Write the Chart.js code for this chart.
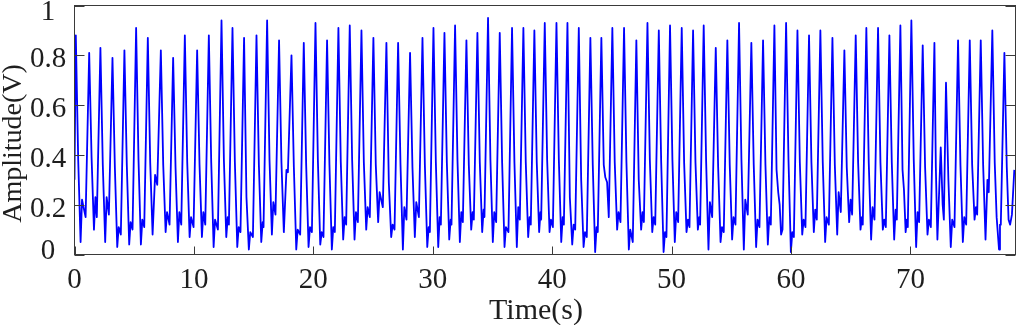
<!DOCTYPE html>
<html>
<head>
<meta charset="utf-8">
<script src="https://cdn.jsdelivr.net/npm/chart.js@4.4.1/dist/chart.umd.min.js"></script>
<style>
  html, body { margin: 0; padding: 0; background: #ffffff; }
  #wrap { width: 1017px; height: 325px; }
</style>
</head>
<body>
<div id="wrap"><canvas id="c" width="1017" height="325"></canvas></div>
<script>
// ---- data (time in s, amplitude in V) ----
const time = [
  0.00,
  0.11,0.31,0.51,0.63,0.93,
  1.23,1.43,1.63,1.75,1.87,
  2.17,2.37,2.57,2.69,2.88,
  3.18,3.38,3.58,3.70,3.88,
  4.18,4.38,4.58,4.70,4.86,
  5.16,5.36,5.56,5.68,5.84,
  6.14,6.34,6.54,6.75,6.93,
  7.23,7.43,7.63,7.75,7.96,
  8.26,8.46,8.66,8.78,8.94,
  9.24,9.44,9.64,9.76,9.97,
  10.27,10.47,10.67,10.79,10.95,
  11.25,11.45,11.65,11.77,12.01,
  12.31,12.51,12.71,12.83,12.93,
  13.23,13.43,13.63,13.75,13.90,
  14.20,14.40,14.60,14.72,14.94,
  15.24,15.44,15.64,15.76,15.83,
  16.13,16.33,16.53,16.65,16.83,
  17.13,17.33,17.53,17.75,17.87,
  18.17,18.37,18.57,18.69,18.90,
  19.20,19.40,19.60,19.72,19.88,
  20.18,20.38,20.58,20.70,20.85,
  21.15,21.35,21.55,21.67,21.80,
  22.10,22.30,22.50,22.62,22.75,
  23.05,23.25,23.45,23.57,23.73,
  24.03,24.23,24.43,24.55,24.73,
  25.03,25.23,25.43,25.55,25.82,
  26.12,26.32,26.52,26.64,26.80,
  27.10,27.30,27.50,27.62,27.80,
  28.10,28.30,28.50,28.62,28.84,
  29.14,29.34,29.54,29.66,29.76,
  30.06,30.26,30.46,30.58,30.68,
  30.98,31.18,31.38,31.50,31.57,
  31.87,32.07,32.27,32.39,32.52,
  32.82,33.02,33.22,33.34,33.44,
  33.74,33.94,34.14,34.26,34.33,
  34.63,34.83,35.03,35.15,35.31,
  35.61,35.81,36.01,36.13,36.34,
  36.64,36.84,37.04,37.16,37.29,
  37.59,37.79,37.99,38.11,38.21,
  38.51,38.71,38.91,39.02,39.08,
  39.38,39.58,39.78,39.90,40.06,
  40.36,40.56,40.76,40.88,40.98,
  41.28,41.48,41.68,41.80,41.93,
  42.23,42.43,42.63,42.75,42.90,
  43.20,43.40,43.60,43.72,43.82,
  44.12,44.32,44.45,44.60,44.74,
  45.04,45.24,45.44,45.56,45.72,
  46.02,46.22,46.42,46.54,46.75,
  47.05,47.25,47.45,47.57,47.68,
  47.98,48.18,48.38,48.50,48.63,
  48.93,49.13,49.33,49.45,49.57,
  49.87,50.07,50.27,50.39,50.55,
  50.85,51.05,51.25,51.37,51.50,
  51.80,52.00,52.20,52.32,52.39,
  52.69,52.89,53.09,53.21,53.40,
  53.70,53.90,54.10,54.22,54.37,
  54.67,54.87,55.07,55.19,55.35,
  55.65,55.85,56.05,56.17,56.38,
  56.68,56.88,57.08,57.20,57.36,
  57.66,57.86,58.06,58.18,58.31,
  58.61,58.79,58.93,59.05,59.17,59.29,
  59.59,59.79,59.99,60.11,60.24,
  60.54,60.74,60.94,61.06,61.21,
  61.51,61.71,61.91,62.03,62.16,
  62.46,62.66,62.86,62.98,63.17,
  63.47,63.67,63.87,63.99,64.17,
  64.47,64.67,64.87,64.99,65.12,
  65.42,65.62,65.82,65.94,66.01,
  66.31,66.51,66.71,66.83,66.99,
  67.29,67.49,67.69,67.81,67.94,
  68.24,68.44,68.64,68.76,68.86,
  69.16,69.34,69.46,69.60,69.70,69.78,
  70.08,70.28,70.48,70.60,70.73,
  71.03,71.23,71.43,71.55,71.71,
  72.01,72.13,72.26,72.54,72.70,72.80,
  72.98,73.18,73.38,73.50,73.69,
  73.99,74.19,74.39,74.51,74.67,
  74.97,75.17,75.37,75.49,75.59,
  75.89,76.09,76.29,76.45,76.56,
  76.86,77.06,77.22,77.42,77.50,77.57,
  77.87,78.07,78.22,78.35,78.50,78.70
];

const amplitude = [
  0.30,
  0.88,0.38,0.05,0.22,0.15,
  0.81,0.39,0.10,0.23,0.15,
  0.83,0.36,0.05,0.23,0.16,
  0.79,0.35,0.03,0.11,0.08,
  0.82,0.36,0.04,0.13,0.10,
  0.91,0.38,0.04,0.14,0.11,
  0.87,0.37,0.08,0.32,0.28,
  0.82,0.36,0.09,0.17,0.12,
  0.79,0.35,0.05,0.17,0.12,
  0.88,0.37,0.07,0.15,0.11,
  0.82,0.36,0.07,0.17,0.12,
  0.88,0.37,0.03,0.14,0.10,
  0.94,0.38,0.07,0.15,0.12,
  0.91,0.37,0.03,0.11,0.09,
  0.87,0.23,0.02,0.09,0.07,
  0.88,0.36,0.05,0.13,0.11,
  0.94,0.38,0.08,0.21,0.16,
  0.86,0.37,0.09,0.34,0.33,
  0.80,0.35,0.02,0.10,0.08,
  0.85,0.36,0.03,0.11,0.09,
  0.93,0.38,0.04,0.09,0.07,
  0.86,0.36,0.02,0.11,0.09,
  0.91,0.37,0.06,0.15,0.12,
  0.92,0.38,0.06,0.17,0.13,
  0.90,0.37,0.10,0.19,0.15,
  0.87,0.36,0.13,0.25,0.19,
  0.85,0.29,0.07,0.12,0.10,
  0.85,0.36,0.02,0.19,0.14,
  0.81,0.35,0.07,0.21,0.15,
  0.87,0.36,0.03,0.11,0.09,
  0.91,0.37,0.03,0.15,0.12,
  0.89,0.37,0.06,0.14,0.12,
  0.92,0.38,0.05,0.17,0.13,
  0.86,0.36,0.10,0.17,0.14,
  0.89,0.37,0.09,0.18,0.15,
  0.95,0.38,0.05,0.17,0.13,
  0.89,0.37,0.03,0.11,0.09,
  0.91,0.37,0.03,0.19,0.14,
  0.91,0.37,0.07,0.15,0.12,
  0.90,0.37,0.09,0.17,0.14,
  0.93,0.38,0.09,0.14,0.11,
  0.93,0.38,0.05,0.15,0.12,
  0.93,0.23,0.04,0.12,0.10,
  0.91,0.30,0.03,0.09,0.07,
  0.87,0.36,0.01,0.11,0.09,
  0.87,0.36,0.31,0.29,0.15,
  0.91,0.37,0.10,0.17,0.13,
  0.91,0.37,0.02,0.10,0.05,
  0.86,0.30,0.10,0.17,0.13,
  0.93,0.38,0.09,0.15,0.12,
  0.90,0.37,0.01,0.09,0.07,
  0.92,0.38,0.05,0.17,0.13,
  0.91,0.37,0.09,0.14,0.11,
  0.90,0.37,0.10,0.15,0.12,
  0.92,0.38,0.02,0.21,0.15,
  0.83,0.35,0.05,0.11,0.09,
  0.86,0.36,0.06,0.15,0.12,
  0.93,0.38,0.02,0.22,0.16,
  0.85,0.36,0.03,0.14,0.11,
  0.86,0.36,0.04,0.15,0.12,
  0.92,0.34,0.25,0.20,0.08,0.10,
  0.93,0.38,0.01,0.09,0.07,
  0.90,0.37,0.08,0.14,0.11,
  0.88,0.37,0.09,0.18,0.14,
  0.90,0.37,0.05,0.15,0.12,
  0.87,0.36,0.08,0.25,0.17,
  0.82,0.35,0.13,0.22,0.16,
  0.88,0.37,0.10,0.15,0.12,
  0.91,0.37,0.06,0.19,0.14,
  0.91,0.37,0.10,0.14,0.11,
  0.88,0.37,0.06,0.18,0.14,
  0.92,0.34,0.26,0.09,0.14,0.11,
  0.94,0.38,0.03,0.17,0.13,
  0.84,0.35,0.08,0.14,0.11,
  0.85,0.35,0.06,0.43,0.20,0.14,
  0.69,0.30,0.03,0.14,0.11,
  0.86,0.36,0.05,0.15,0.12,
  0.86,0.36,0.14,0.19,0.16,
  0.86,0.36,0.06,0.30,0.25,
  0.90,0.37,0.15,0.02,0.12,0.12,
  0.81,0.35,0.14,0.12,0.16,0.34
];

const xTickValues = [0, 10, 20, 30, 40, 50, 60, 70];
const xTickLabels = ['0', '10', '20', '30', '40', '50', '60', '70'];
const yTickValues = [0, 0.2, 0.4, 0.6, 0.8, 1];
const yTickLabels = ['0', '0.2', '0.4', '0.6', '0.8', '1'];
const xAxisTitle = 'Time(s)';
const yAxisTitle = 'Amplitude(V)';
const xRange = [0, 78.8];
const yRange = [0, 1];

// ---- MATLAB-style frame, inward ticks and text ----
const frame = {
  id: 'frame',
  afterDraw(chart) {
    const ctx = chart.ctx;
    const a = chart.chartArea;
    const xs = chart.scales.x, ys = chart.scales.y;
    ctx.save();
    ctx.strokeStyle = '#3a3a3a';
    ctx.lineWidth = 1;
    ctx.strokeRect(a.left, a.top, a.right - a.left, a.bottom - a.top);
    ctx.beginPath();
    xTickValues.forEach(v => {
      const px = Math.round(xs.getPixelForValue(v)) + 0.5;
      ctx.moveTo(px, a.bottom); ctx.lineTo(px, a.bottom - 8);
    });
    yTickValues.forEach(v => {
      const py = Math.round(ys.getPixelForValue(v)) + 0.5;
      ctx.moveTo(a.left, py); ctx.lineTo(a.left + 10, py);
      ctx.moveTo(a.right, py); ctx.lineTo(a.right - 10, py);
    });
    ctx.stroke();

    ctx.fillStyle = '#1e1e1e';
    ctx.font = '29px "Liberation Serif", "Times New Roman", serif';
    ctx.textAlign = 'center';
    ctx.textBaseline = 'alphabetic';
    xTickValues.forEach((v, i) => {
      ctx.fillText(xTickLabels[i], xs.getPixelForValue(v), 288);
    });
    yTickValues.forEach((v, i) => {
      const py = ys.getPixelForValue(v) + 12;
      const base = Math.min(258.5, Math.max(20, py));
      ctx.fillText(yTickLabels[i], 48, base);
    });

    ctx.font = '30px "Liberation Serif", "Times New Roman", serif';
    ctx.fillText(xAxisTitle, 536, 319);

    ctx.font = '28px "Liberation Serif", "Times New Roman", serif';
    ctx.translate(21, 143.5);
    ctx.rotate(-Math.PI / 2);
    ctx.fillText(yAxisTitle, 0, 0);
    ctx.restore();
  }
};

const points = time.map((t, i) => ({ x: t, y: amplitude[i] }));

new Chart(document.getElementById('c'), {
  type: 'line',
  data: {
    datasets: [{
      label: yAxisTitle,
      data: points,
      borderColor: '#0000ff',
      borderWidth: 1.8,
      borderJoinStyle: 'round',
      pointRadius: 0,
      tension: 0,
      fill: false
    }]
  },
  options: {
    responsive: false,
    devicePixelRatio: 1,
    animation: false,
    layout: { padding: { left: 74.5, top: 5.5, right: 1.5, bottom: 70.5 } },
    plugins: { legend: { display: false }, tooltip: { enabled: false } },
    scales: {
      x: { type: 'linear', display: false, min: xRange[0], max: xRange[1] },
      y: { type: 'linear', display: false, min: yRange[0], max: yRange[1] }
    }
  },
  plugins: [frame]
});
</script>
</body>
</html>
